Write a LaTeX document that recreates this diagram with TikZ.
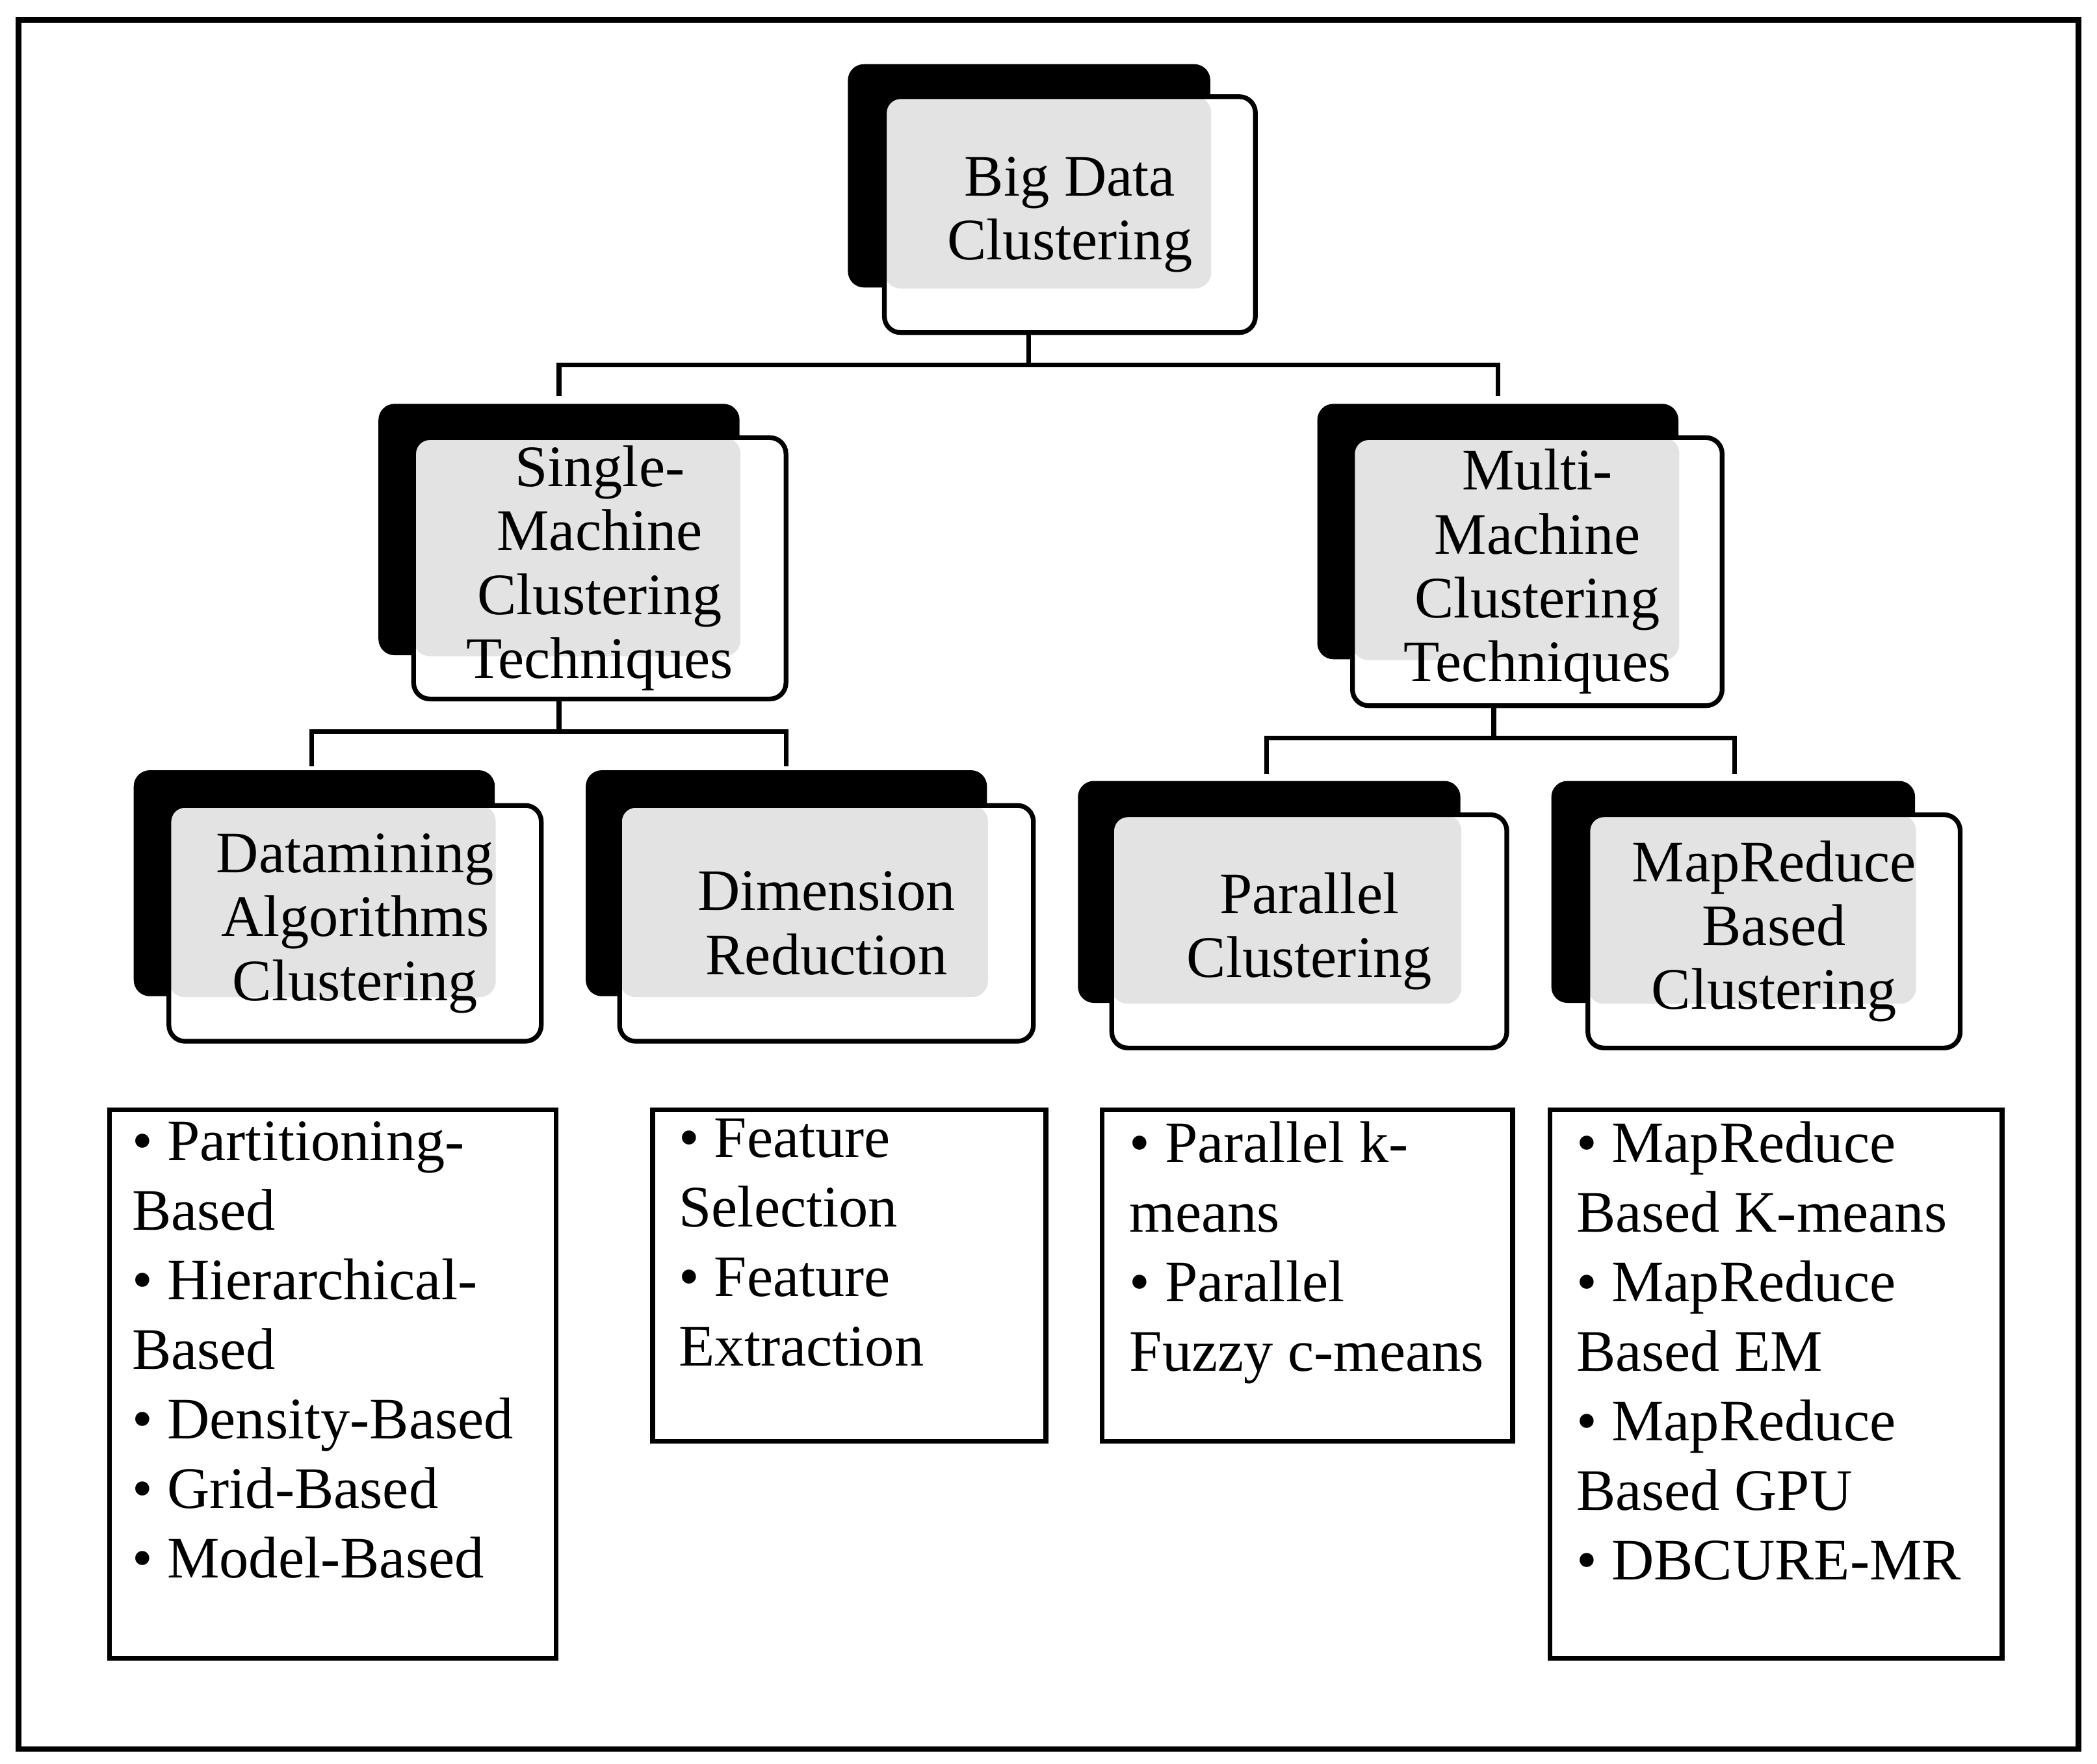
\documentclass[tikz,border=0pt]{standalone}
\usepackage{fontspec}
\setmainfont{Liberation Serif}
\usetikzlibrary{fit}

\tikzset{
  shadowbox/.style={fill=black, rounded corners=0.12cm, inner sep=0pt},
  frontbox/.style={draw=black, line width=1pt, rounded corners=0.12cm, inner sep=0pt},
  lbl/.style={align=center, font=\fontsize{12.5}{13.6}\selectfont},
  listbox/.style={draw=black, line width=1pt, inner sep=0pt},
  listtxt/.style={align=left, anchor=north west, inner sep=0pt, font=\fontsize{12.5}{14.8}\selectfont},
  link/.style={line width=1pt}
}

\begin{document}
\begin{tikzpicture}[x=0.01cm, y=-0.01cm]

\useasboundingbox (0,0) rectangle (1568,1319);
% outer frame
\draw[line width=1.2pt] (14,15) rectangle (1554,1308);

% shadows
\node[shadowbox, fit={(634,48)(905,215)}] (rootS) {};
\node[shadowbox, fit={(283,302)(553,490)}] (singleS) {};
\node[shadowbox, fit={(985,302)(1255,493)}] (multiS) {};
\node[shadowbox, fit={(100,576)(370,745)}] (dmS) {};
\node[shadowbox, fit={(438,576)(738,745)}] (drS) {};
\node[shadowbox, fit={(806,584)(1092,750)}] (parS) {};
\node[shadowbox, fit={(1160,584)(1432,750)}] (mrS) {};

% front boxes
\node[fit={(662,73)(938,248)}, inner sep=0pt] (root) {};
\node[fit={(310,328)(587,522)}, inner sep=0pt] (single) {};
\node[fit={(1012,328)(1287,527)}, inner sep=0pt] (multi) {};
\node[fit={(127,603)(404,778)}, inner sep=0pt] (dm) {};
\node[fit={(464,603)(772,778)}, inner sep=0pt] (dr) {};
\node[fit={(832,610)(1126,783)}, inner sep=0pt] (par) {};
\node[fit={(1188,610)(1465,783)}, inner sep=0pt] (mr) {};

\foreach \b in {root,single,multi,dm,dr,par,mr} {
  \fill[white, rounded corners=0.12cm] (\b.north west) rectangle (\b.south east);
  \fill[gray!22, rounded corners=0.12cm] (\b.north west) rectangle (\b S.south east);
  \draw[line width=1pt, rounded corners=0.12cm] (\b.north west) rectangle (\b.south east);
}

% labels
\node[lbl] (rootT) at (root.center) {Big Data\\Clustering};
\node[lbl] (singleT) at (single.center) {Single-\\Machine\\Clustering\\Techniques};
\node[lbl] (multiT) at (multi.center) {Multi-\\Machine\\Clustering\\Techniques};
\node[lbl] (dmT) at (dm.center) {Datamining\\Algorithms\\Clustering};
\node[lbl] (drT) at (dr.center) {Dimension\\Reduction};
\node[lbl] (parT) at (par.center) {Parallel\\Clustering};
\node[lbl] (mrT) at (mr.center) {MapReduce\\Based\\Clustering};

% connectors
\coordinate (rootJ) at (769,273);
\coordinate (singleJ) at (418,547);
\coordinate (multiJ) at (1117,552);
\draw[link] (root.south -| rootJ) -- (rootJ);
\draw[link] (418,296) |- (rootJ) -| (1120,296);
\draw[link] (single.south -| singleJ) -- (singleJ);
\draw[link] (233,573) |- (singleJ) -| (588,573);
\draw[link] (multi.south -| multiJ) -- (multiJ);
\draw[link] (947,579) |- (multiJ) -| (1297,579);

% lists
\node[listbox, fit={(82,830)(416,1240)}] (dmL) {};
\node[listbox, fit={(488,830)(782,1078)}] (drL) {};
\node[listbox, fit={(824,830)(1131,1078)}] (parL) {};
\node[listbox, fit={(1159,830)(1497,1240)}] (mrL) {};

\node[listtxt] (dmLT) at (98,838) {\textbullet\ Partitioning-\\Based\\\textbullet\ Hierarchical-\\Based\\\textbullet\ Density-Based\\\textbullet\ Grid-Based\\\textbullet\ Model-Based};
\node[listtxt] (drLT) at (507,836) {\textbullet\ Feature\\Selection\\\textbullet\ Feature\\Extraction};
\node[listtxt] (parLT) at (844,838) {\textbullet\ Parallel k-\\means\\\textbullet\ Parallel\\Fuzzy c-means};
\node[listtxt] (mrLT) at (1178,838) {\textbullet\ MapReduce\\Based K-means\\\textbullet\ MapReduce\\Based EM\\\textbullet\ MapReduce\\Based GPU\\\textbullet\ DBCURE-MR};

\end{tikzpicture}
\end{document}
